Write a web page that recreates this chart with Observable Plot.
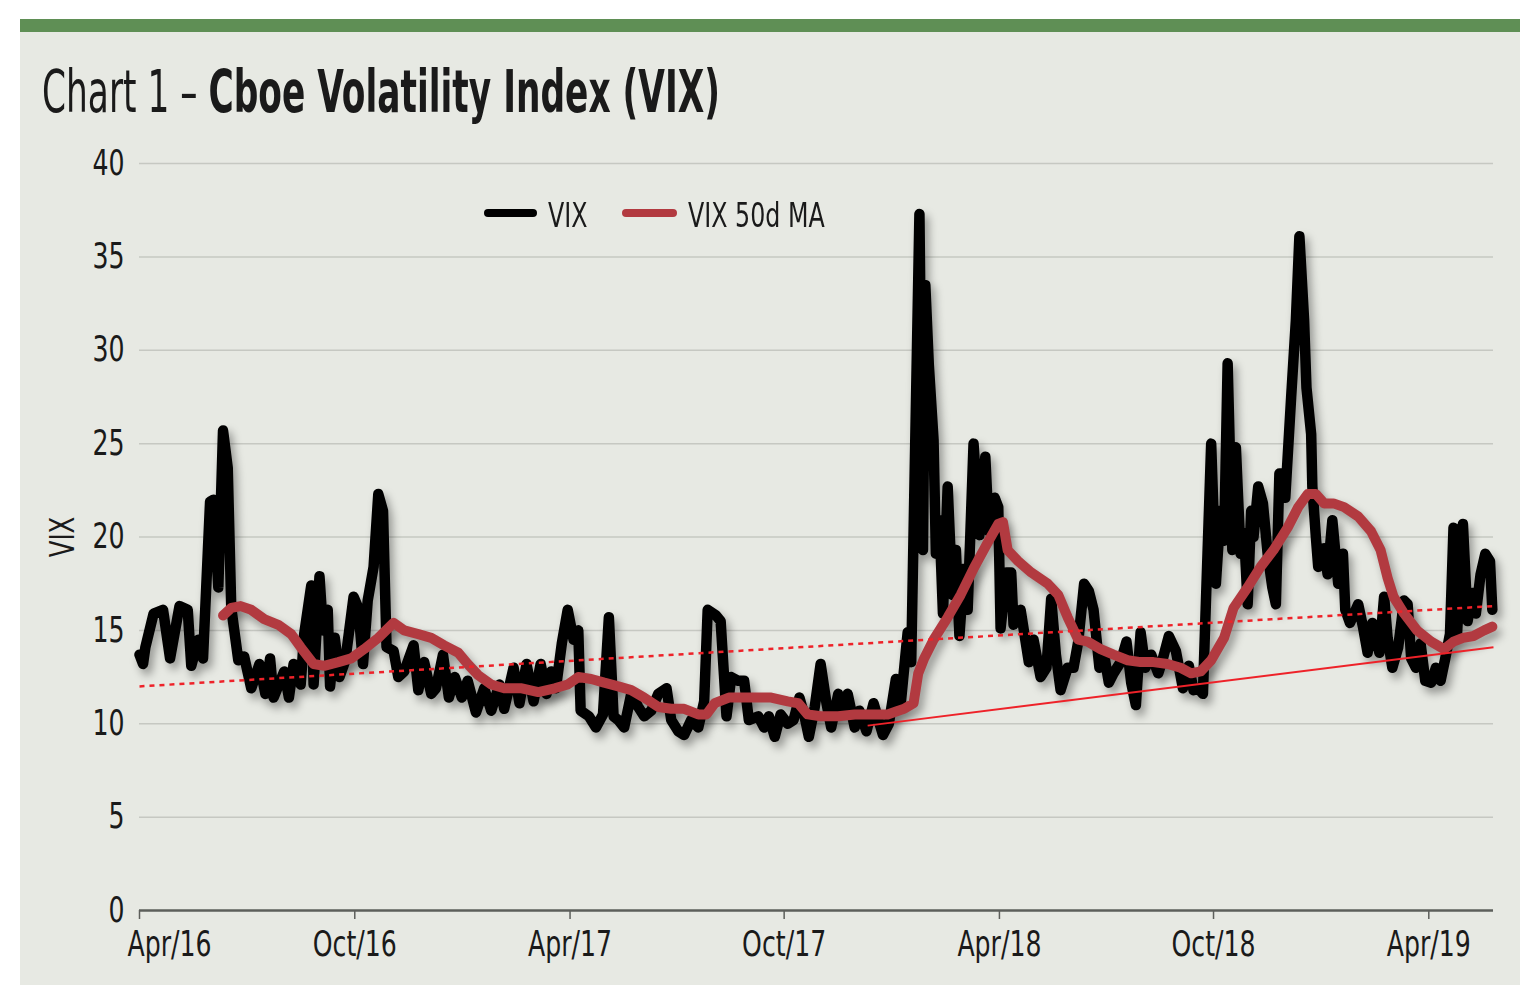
<!DOCTYPE html>
<html>
<head>
<meta charset="utf-8">
<script src="https://cdn.jsdelivr.net/npm/d3@7"></script>
<script src="https://cdn.jsdelivr.net/npm/@observablehq/plot@0.6"></script>
<style>
html, body { margin: 0; padding: 0; background: #ffffff; }
#page { position: relative; width: 1540px; height: 998px; overflow: hidden;
  font-family: "DejaVu Sans Condensed", "Liberation Sans Narrow", sans-serif; color: #1a1a1a; }
#panel { position: absolute; left: 20px; top: 19px; width: 1500px; height: 966px; background: #e7e9e3; }
#bar { position: absolute; left: 20px; top: 19px; width: 1500px; height: 13px; background: #5f8f55; }
#title { position: absolute; left: 42px; top: 63px; font-size: 58px; line-height: 1; white-space: nowrap; transform-origin: 0 0; }
#title b { font-weight: bold; }
#chart { position: absolute; left: 0; top: 140px; }
.leg-sw { position: absolute; height: 8px; border-radius: 4px; top: 209px; }
.leg-tx { position: absolute; top: 199px; font-size: 33px; line-height: 1; white-space: nowrap; transform-origin: 0 0; }
</style>
</head>
<body>
<div id="page">
  <div id="panel"></div>
  <div id="bar"></div>
  <div id="title">Chart 1 – <b>Cboe Volatility Index (VIX)</b></div>
  <div id="chart"></div>
  <div class="leg-sw" style="left:484px;width:53px;background:#000;"></div>
  <div class="leg-tx" id="leg1" style="left:548px;">VIX</div>
  <div class="leg-sw" style="left:622px;width:55px;background:#b23a40;"></div>
  <div class="leg-tx" id="leg2" style="left:688px;">VIX 50d MA</div>
</div>
<script>
const vixPoints = [
  [2016.249,13.7],[2016.258,13.2],[2016.263,14.1],[2016.282,15.9],[2016.303,16.1],[2016.321,13.5],[2016.342,16.3],[2016.361,16.1],[2016.368,13.1],[2016.384,14.5],
  [2016.396,13.5],[2016.412,21.9],[2016.421,22.0],[2016.433,17.3],[2016.442,25.7],[2016.454,23.7],[2016.461,16.2],[2016.477,13.4],[2016.491,13.6],[2016.507,11.9],
  [2016.526,13.2],[2016.542,11.6],[2016.552,13.5],[2016.561,11.4],[2016.584,12.8],[2016.596,11.4],[2016.607,13.2],[2016.624,12.1],[2016.631,14.8],[2016.647,17.4],
  [2016.654,12.1],[2016.666,17.9],[2016.675,15.0],[2016.687,16.1],[2016.691,12.0],[2016.703,14.6],[2016.714,12.5],[2016.728,13.4],[2016.745,16.8],[2016.756,16.2],
  [2016.768,13.2],[2016.780,16.6],[2016.791,18.4],[2016.803,22.3],[2016.815,21.4],[2016.822,14.1],[2016.840,13.9],[2016.850,12.5],[2016.863,12.8],[2016.884,14.2],
  [2016.896,11.8],[2016.910,13.3],[2016.926,11.6],[2016.938,11.9],[2016.954,13.7],[2016.966,11.4],[2016.980,12.5],[2016.996,11.4],[2017.012,12.3],[2017.031,10.6],
  [2017.050,11.9],[2017.066,10.7],[2017.085,12.1],[2017.096,10.8],[2017.119,13.0],[2017.131,11.1],[2017.147,13.2],[2017.164,11.2],[2017.182,13.2],[2017.194,11.6],
  [2017.206,12.8],[2017.217,11.9],[2017.229,14.3],[2017.243,16.1],[2017.257,14.5],[2017.268,15.0],[2017.275,10.7],[2017.292,10.4],[2017.310,9.8],[2017.327,10.5],
  [2017.341,15.7],[2017.350,10.4],[2017.362,10.2],[2017.376,9.8],[2017.392,11.6],[2017.408,10.9],[2017.422,10.4],[2017.438,10.7],[2017.455,11.6],[2017.473,11.9],
  [2017.485,10.2],[2017.501,9.6],[2017.515,9.4],[2017.531,10.2],[2017.548,9.8],[2017.562,11.2],[2017.571,16.1],[2017.590,15.8],[2017.599,15.5],[2017.613,10.4],
  [2017.625,12.5],[2017.641,12.3],[2017.655,12.3],[2017.666,10.2],[2017.687,10.4],[2017.701,9.8],[2017.713,10.4],[2017.725,9.3],[2017.741,10.5],[2017.757,10.0],
  [2017.771,10.2],[2017.783,11.4],[2017.794,10.5],[2017.806,9.3],[2017.818,10.9],[2017.834,13.2],[2017.846,11.1],[2017.857,9.8],[2017.874,11.6],[2017.885,10.7],
  [2017.897,11.6],[2017.911,9.8],[2017.922,10.7],[2017.939,9.6],[2017.957,11.1],[2017.978,9.4],[2017.992,10.0],[2018.009,12.4],[2018.020,11.0],[2018.036,14.9],
  [2018.043,13.3],[2018.062,37.3],[2018.071,19.3],[2018.078,33.5],[2018.085,29.2],[2018.095,25.2],[2018.102,19.1],[2018.109,20.9],[2018.118,15.9],[2018.130,22.7],
  [2018.141,16.9],[2018.148,19.3],[2018.155,14.7],[2018.167,18.3],[2018.176,16.1],[2018.190,25.0],[2018.202,20.1],[2018.216,24.3],[2018.225,20.3],[2018.237,22.1],
  [2018.246,21.6],[2018.253,15.1],[2018.265,18.1],[2018.276,18.1],[2018.283,15.3],[2018.299,16.1],[2018.306,14.9],[2018.318,13.3],[2018.330,14.5],[2018.346,12.5],
  [2018.358,13.0],[2018.369,16.7],[2018.381,13.7],[2018.393,11.8],[2018.409,13.0],[2018.423,13.0],[2018.434,14.4],[2018.446,17.5],[2018.458,17.1],[2018.469,16.1],
  [2018.481,13.0],[2018.493,13.7],[2018.504,12.2],[2018.516,12.7],[2018.532,13.3],[2018.544,14.4],[2018.556,12.2],[2018.567,11.0],[2018.579,14.9],[2018.590,13.0],
  [2018.602,13.7],[2018.618,12.7],[2018.630,13.5],[2018.644,14.7],[2018.660,13.9],[2018.677,11.9],[2018.691,13.1],[2018.702,11.8],[2018.711,11.9],[2018.723,11.6],
  [2018.730,15.5],[2018.742,25.0],[2018.753,17.5],[2018.765,21.4],[2018.772,19.8],[2018.781,29.3],[2018.793,19.3],[2018.800,24.8],[2018.812,19.1],[2018.819,20.2],
  [2018.828,16.4],[2018.835,21.4],[2018.842,20.0],[2018.851,22.7],[2018.863,21.8],[2018.874,19.1],[2018.886,17.3],[2018.893,16.4],[2018.900,23.4],[2018.909,23.4],
  [2018.916,22.1],[2018.928,27.5],[2018.939,31.6],[2018.949,36.1],[2018.958,31.6],[2018.965,28.0],[2018.974,25.5],[2018.979,22.7],[2018.986,20.0],[2018.993,18.4],
  [2019.005,19.4],[2019.014,18.0],[2019.026,20.9],[2019.037,17.5],[2019.049,19.1],[2019.056,16.1],[2019.067,15.4],[2019.084,16.4],[2019.095,15.2],[2019.107,13.8],
  [2019.119,15.4],[2019.133,13.8],[2019.144,16.8],[2019.154,14.6],[2019.165,13.0],[2019.177,14.1],[2019.191,16.6],[2019.200,16.4],[2019.207,13.5],[2019.219,13.0],
  [2019.230,14.3],[2019.242,12.3],[2019.254,12.2],[2019.265,13.0],[2019.277,12.3],[2019.289,13.5],[2019.300,14.8],[2019.307,20.5],[2019.316,14.8],[2019.328,20.7],
  [2019.340,15.5],[2019.351,17.0],[2019.358,15.9],[2019.370,18.0],[2019.382,19.1],[2019.393,18.7],[2019.398,16.1]
];

const maPoints = [
  [2016.442,15.8],[2016.461,16.2],[2016.484,16.3],[2016.507,16.1],[2016.538,15.6],[2016.570,15.3],[2016.600,14.8],[2016.624,14.1],[2016.652,13.2],[2016.677,13.1],
  [2016.710,13.3],[2016.740,13.5],[2016.770,14.0],[2016.803,14.6],[2016.838,15.4],[2016.863,15.0],[2016.896,14.8],[2016.926,14.6],[2016.957,14.2],[2016.989,13.8],
  [2017.012,13.2],[2017.036,12.6],[2017.066,12.1],[2017.096,11.9],[2017.136,11.9],[2017.175,11.7],[2017.213,11.9],[2017.245,12.1],[2017.268,12.5],[2017.299,12.4],
  [2017.329,12.2],[2017.362,12.0],[2017.392,11.8],[2017.422,11.4],[2017.455,10.9],[2017.485,10.8],[2017.515,10.8],[2017.548,10.5],[2017.566,10.5],[2017.585,11.1],
  [2017.618,11.4],[2017.648,11.4],[2017.678,11.4],[2017.718,11.4],[2017.757,11.2],[2017.780,11.1],[2017.804,10.5],[2017.834,10.4],[2017.874,10.4],[2017.911,10.5],
  [2017.950,10.5],[2017.990,10.5],[2018.013,10.7],[2018.027,10.8],[2018.048,11.1],[2018.060,12.7],[2018.074,13.5],[2018.097,14.5],[2018.130,15.7],[2018.160,16.9],
  [2018.190,18.3],[2018.223,19.7],[2018.246,20.7],[2018.258,20.8],[2018.269,19.3],[2018.293,18.7],[2018.323,18.1],[2018.362,17.5],[2018.386,16.9],[2018.409,15.7],
  [2018.432,14.5],[2018.455,14.4],[2018.486,14.0],[2018.516,13.7],[2018.549,13.4],[2018.579,13.3],[2018.609,13.3],[2018.642,13.2],[2018.672,13.0],[2018.695,12.7],
  [2018.718,12.8],[2018.742,13.4],[2018.772,14.6],[2018.795,16.2],[2018.828,17.3],[2018.858,18.4],[2018.888,19.3],[2018.921,20.5],[2018.944,21.6],[2018.967,22.3],
  [2018.986,22.3],[2019.005,21.8],[2019.028,21.8],[2019.051,21.6],[2019.084,21.1],[2019.114,20.3],[2019.137,19.3],[2019.154,17.8],[2019.168,16.8],[2019.191,15.9],
  [2019.223,15.0],[2019.254,14.4],[2019.284,14.0],[2019.307,14.4],[2019.330,14.6],[2019.354,14.7],[2019.377,15.0],[2019.398,15.2]
];

// trend lines: [start time, start value, end time, end value]
const trendDotted = [[2016.249, 12.0, 2019.400, 16.3]];
const trendSolid  = [[2017.943, 9.9, 2019.400, 14.1]];

const yTicks = [0, 5, 10, 15, 20, 25, 30, 35, 40];
const xTickTimes  = [2016.249, 2016.749, 2017.249, 2017.749, 2018.249, 2018.749, 2019.249];
const xTickLabels = ["Apr/16", "Oct/16", "Apr/17", "Oct/17", "Apr/18", "Oct/18", "Apr/19"];
const xDomain = [2016.249, 2019.400];

// ---- helpers ----
const toDate = t => {
  const y = Math.floor(t);
  const s = Date.UTC(y, 0, 1), e = Date.UTC(y + 1, 0, 1);
  return new Date(Math.round((s + (t - y) * (e - s)) / 864e5) * 864e5);
};
const vix = vixPoints.map(([t, v]) => ({date: toDate(t), value: v}));
const ma = maPoints.map(([t, v]) => ({date: toDate(t), value: v}));
const tDot = trendDotted.map(([t1, v1, t2, v2]) => ({x1: toDate(t1), y1: v1, x2: toDate(t2), y2: v2}));
const tSol = trendSolid.map(([t1, v1, t2, v2]) => ({x1: toDate(t1), y1: v1, x2: toDate(t2), y2: v2}));
const xTicks = xTickTimes.map(toDate);
const labelOf = new Map(xTicks.map((d, i) => [+d, xTickLabels[i]]));

const font = '"DejaVu Sans Condensed", "Liberation Sans Narrow", sans-serif';

const chart = Plot.plot({
  width: 1540,
  height: 858,
  marginLeft: 139,
  marginRight: 47,
  marginTop: 23,
  marginBottom: 88,
  style: {background: "transparent", fontFamily: font, fontSize: "35px", color: "#1a1a1a", overflow: "visible"},
  x: {type: "utc", domain: xDomain.map(toDate)},
  y: {domain: [0, 40]},
  marks: [
    Plot.gridY(yTicks.filter(d => d > 0), {stroke: "#c6c8c2", strokeOpacity: 1, strokeWidth: 1.5}),
    Plot.ruleY([0], {stroke: "#5d5f5b", strokeWidth: 2.5}),
    Plot.axisY({ticks: yTicks, tickSize: 0, tickPadding: 15, label: null, fontSize: 35}),
    Plot.axisX({ticks: xTicks, tickFormat: d => labelOf.get(+d), tickSize: 9, tickPadding: 12, label: null, stroke: "#5d5f5b", strokeWidth: 1.5, fontSize: 35}),
    Plot.line(vix, {x: "date", y: "value", stroke: "#000000", strokeWidth: 10.5, strokeLinejoin: "round", strokeLinecap: "round"}),
    Plot.line(ma, {x: "date", y: "value", stroke: "#b23a40", strokeWidth: 10, strokeLinejoin: "round", strokeLinecap: "round"}),
    Plot.link(tDot, {x1: "x1", y1: "y1", x2: "x2", y2: "y2", stroke: "#ee2229", strokeWidth: 2.5, strokeDasharray: "5,5"}),
    Plot.link(tSol, {x1: "x1", y1: "y1", x2: "x2", y2: "y2", stroke: "#ee2229", strokeWidth: 2}),
    Plot.text(["VIX"], {text: d => d, frameAnchor: "left", dx: -76, rotate: -90, fontSize: 34, lineAnchor: "middle", textAnchor: "middle", fill: "#1a1a1a"})
  ]
});
document.getElementById("chart").appendChild(chart);

// soft drop shadow under the two data lines, as in the reference
d3.select(chart).selectAll('g[aria-label="line"]').style("filter", "drop-shadow(4px 6px 4px rgba(0,0,0,0.35))");
// first x label sits right of its tick
d3.select(chart).select('g[aria-label="x-axis tick label"] text').attr("text-anchor", "start").attr("dx", -12);

// condense all chart text (the reference uses a condensed face)
d3.select(chart).selectAll("text").each(function () {
  const len = this.getComputedTextLength();
  if (len > 0) {
    this.setAttribute("textLength", (len * 0.8).toFixed(1));
    this.setAttribute("lengthAdjust", "spacingAndGlyphs");
  }
});

// condense legend text
for (const id of ["leg1", "leg2"]) document.getElementById(id).style.transform = "scaleX(0.8)";

// fit the condensed title to the reference width
const title = document.getElementById("title");
const w = title.getBoundingClientRect().width;
title.style.transform = `scaleX(${678 / w})`;
</script>
</body>
</html>
